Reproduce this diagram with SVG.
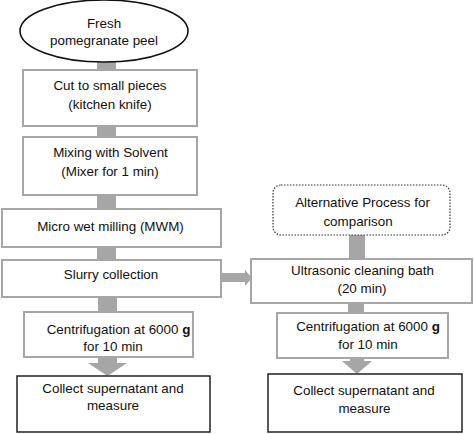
<svg xmlns="http://www.w3.org/2000/svg" width="474" height="434" viewBox="0 0 474 434">
<style>
text{font-family:"Liberation Sans",Arial,sans-serif;font-size:13.4px;fill:#111;text-anchor:middle}
.g{fill:#fff;stroke:#a6a6a6;stroke-width:2}
.k{fill:#fff;stroke:#222;stroke-width:1.5}
.c{fill:#a6a6a6;stroke:none}
</style>
<rect width="474" height="434" fill="#fff"/>
<g id="connectors">
<rect class="c" x="97" y="58" width="19" height="12"/>
<rect class="c" x="97" y="126" width="19" height="11"/>
<rect class="c" x="97" y="195" width="19" height="14"/>
<rect class="c" x="97" y="247" width="19" height="13"/>
<rect class="c" x="98" y="297" width="19" height="15"/>
<rect class="c" x="98" y="357" width="19" height="7"/>
<polygon class="c" points="88,363 127,363 107.5,376"/>
<rect class="c" x="222" y="273" width="24" height="9"/>
<polygon class="c" points="245,270 245,286 252,278"/>
<rect class="c" x="349" y="235" width="16" height="24"/>
<rect class="c" x="348" y="303" width="16" height="10"/>
<rect class="c" x="350" y="358" width="14" height="4"/>
<polygon class="c" points="342,361 372,361 357,374"/>
</g>
<g id="n0">
<ellipse cx="104" cy="31" rx="84" ry="31" fill="#fff" stroke="#111" stroke-width="1.6"/>
<text x="104" y="28">Fresh</text>
<text x="104" y="45">pomegranate peel</text>
</g>
<g id="n1">
<rect class="g" x="23" y="70" width="174" height="56"/>
<text x="110" y="90">Cut to small pieces</text>
<text x="110" y="109">(kitchen knife)</text>
</g>
<g id="n2">
<rect class="g" x="23" y="137" width="174" height="58"/>
<text x="110.5" y="157">Mixing with Solvent</text>
<text x="110" y="176">(Mixer for 1 min)</text>
</g>
<g id="n3">
<rect class="g" x="2" y="209" width="219" height="38"/>
<text x="110.5" y="231">Micro wet milling (MWM)</text>
</g>
<g id="n4">
<rect class="g" x="2" y="260" width="219" height="37"/>
<text x="111" y="279">Slurry collection</text>
</g>
<g id="n5">
<rect class="g" x="24" y="312" width="169" height="45"/>
<text x="118.5" y="334">Centrifugation at 6000 <tspan font-weight="bold">g</tspan></text>
<text x="113" y="351">for 10 min</text>
</g>
<g id="n6">
<rect class="k" x="17" y="376" width="193" height="56"/>
<text x="113" y="393">Collect supernatant and</text>
<text x="113" y="410">measure</text>
</g>
<g id="n7">
<rect x="273" y="185" width="177" height="50" rx="8" ry="8" fill="#fff" stroke="#333" stroke-width="1.2" stroke-dasharray="1.5,1.5"/>
<text x="362.5" y="207">Alternative Process for</text>
<text x="358" y="226">comparison</text>
</g>
<g id="n8">
<rect class="g" x="251" y="259" width="221" height="44"/>
<text x="362.5" y="275">Ultrasonic cleaning bath</text>
<text x="362" y="293">(20 min)</text>
</g>
<g id="n9">
<rect class="g" x="277" y="313" width="171" height="45"/>
<text x="368" y="331">Centrifugation at 6000 <tspan font-weight="bold">g</tspan></text>
<text x="368" y="349">for 10 min</text>
</g>
<g id="n10">
<rect class="k" x="268" y="374" width="194" height="58"/>
<text x="364" y="395">Collect supernatant and</text>
<text x="364.5" y="413">measure</text>
</g>
</svg>
